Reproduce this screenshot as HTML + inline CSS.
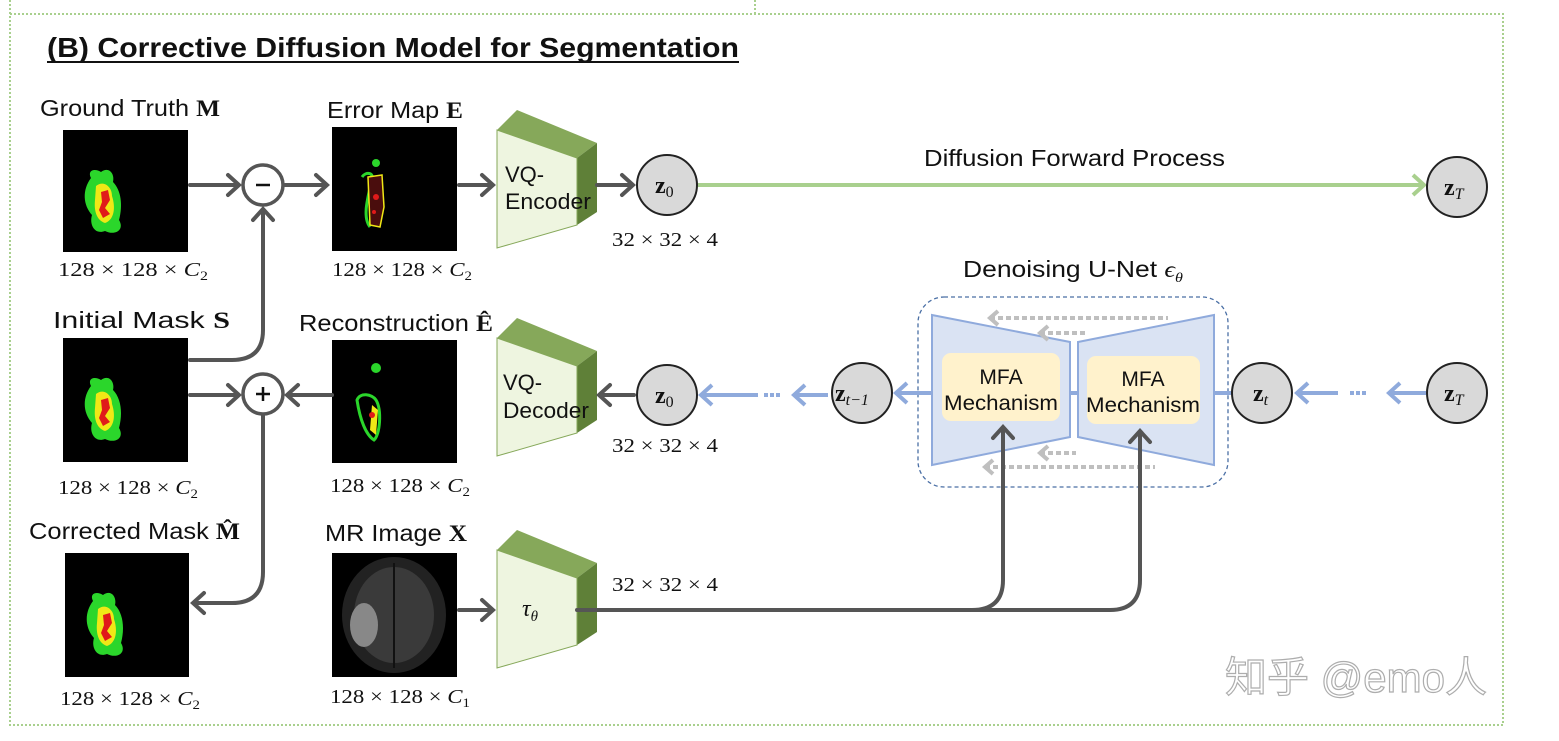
<!DOCTYPE html>
<html><head><meta charset="utf-8"><style>
body{margin:0;background:#fff}
svg{display:block}
.s{font-family:"Liberation Sans",sans-serif;fill:#111}
.r{font-family:"Liberation Serif",serif;fill:#111;font-size:20px}
</style></head><body>
<svg width="1559" height="741" viewBox="0 0 1559 741" xmlns="http://www.w3.org/2000/svg">
<defs>
<g id="blob">
<path d="M28,48 C24,40 32,38 38,42 C46,36 52,44 50,52 C58,60 60,75 56,90 C62,100 52,106 42,101 C32,105 26,95 29,85 C20,75 19,60 28,48Z" fill="#2bd62b"/>
<path d="M33,56 C40,50 49,56 49,66 C53,78 51,90 42,93 C33,90 31,80 32,70Z" fill="#f0e816"/>
<path d="M38,62 L45,60 L47,70 L42,78 L47,84 L40,88 L36,80 L39,72Z" fill="#e01a1a"/>
</g>
</defs>
<g stroke="#a9d08e" stroke-width="2" stroke-dasharray="2,2" fill="none">
<path d="M10 14 H1503 V725 H10 Z"/>
<path d="M10 0 V14"/><path d="M755 0 V14"/>
</g>
<text x="47" y="57" class="s" font-size="28" font-weight="bold" textLength="692" lengthAdjust="spacingAndGlyphs">(B) Corrective Diffusion Model for Segmentation</text>
<line x1="47" y1="62" x2="739" y2="62" stroke="#111" stroke-width="2"/>

<text x="40" y="116" class="s" font-size="23" textLength="180" lengthAdjust="spacingAndGlyphs">Ground Truth <tspan font-family="Liberation Serif" font-weight="bold">M</tspan></text>
<text x="327" y="118" class="s" font-size="23" textLength="136" lengthAdjust="spacingAndGlyphs">Error Map <tspan font-family="Liberation Serif" font-weight="bold">E</tspan></text>
<text x="53" y="328" class="s" font-size="23" textLength="177" lengthAdjust="spacingAndGlyphs">Initial Mask <tspan font-family="Liberation Serif" font-weight="bold">S</tspan></text>
<text x="299" y="331" class="s" font-size="23" textLength="194" lengthAdjust="spacingAndGlyphs">Reconstruction <tspan font-family="Liberation Serif" font-weight="bold">Ê</tspan></text>
<text x="29" y="539" class="s" font-size="23" textLength="211" lengthAdjust="spacingAndGlyphs">Corrected Mask <tspan font-family="Liberation Serif" font-weight="bold">M̂</tspan></text>
<text x="325" y="541" class="s" font-size="23" textLength="142" lengthAdjust="spacingAndGlyphs">MR Image <tspan font-family="Liberation Serif" font-weight="bold">X</tspan></text>

<rect x="63" y="130" width="125" height="122" fill="#000"/><use href="#blob" x="63" y="130"/>
<rect x="332" y="127" width="125" height="124" fill="#000"/>
<g transform="translate(332,127)"><path d="M30,50 C34,44 42,46 40,52 C36,70 30,90 38,100" stroke="#2bd62b" stroke-width="3" fill="none"/><path d="M36,50 L50,48 L52,80 L48,100 L38,98Z" fill="#4a0d0d" stroke="#f0e816" stroke-width="1.5"/><circle cx="44" cy="70" r="3" fill="#e01a1a"/><circle cx="42" cy="85" r="2" fill="#e01a1a"/><circle cx="44" cy="36" r="4" fill="#2bd62b"/></g>
<rect x="63" y="338" width="125" height="124" fill="#000"/><use href="#blob" x="63" y="338"/>
<rect x="332" y="340" width="125" height="123" fill="#000"/>
<g transform="translate(332,340)"><circle cx="44" cy="28" r="5" fill="#2bd62b"/><path d="M25,60 C28,52 40,54 44,60 C50,70 48,95 42,100 C34,95 28,80 25,60Z" fill="#000" stroke="#2bd62b" stroke-width="3"/><path d="M40,65 L46,70 L44,95 L38,90Z" fill="#f0e816"/><circle cx="40" cy="75" r="3" fill="#e01a1a"/></g>
<rect x="65" y="553" width="124" height="124" fill="#000"/><use href="#blob" x="65" y="553"/>
<rect x="332" y="553" width="125" height="124" fill="#000"/>
<g transform="translate(332,553)"><ellipse cx="62" cy="62" rx="52" ry="58" fill="#222"/><ellipse cx="62" cy="62" rx="40" ry="48" fill="#3a3a3a"/><ellipse cx="32" cy="72" rx="14" ry="22" fill="#888"/><path d="M62,10 V115" stroke="#111" stroke-width="2"/></g>

<text x="58" y="276" class="r" textLength="150" lengthAdjust="spacingAndGlyphs">128 × 128 × <tspan font-style="italic">C</tspan><tspan font-size="13" dy="4">2</tspan></text>
<text x="332" y="276" class="r" textLength="140" lengthAdjust="spacingAndGlyphs">128 × 128 × <tspan font-style="italic">C</tspan><tspan font-size="13" dy="4">2</tspan></text>
<text x="58" y="494" class="r" textLength="140" lengthAdjust="spacingAndGlyphs">128 × 128 × <tspan font-style="italic">C</tspan><tspan font-size="13" dy="4">2</tspan></text>
<text x="330" y="492" class="r" textLength="140" lengthAdjust="spacingAndGlyphs">128 × 128 × <tspan font-style="italic">C</tspan><tspan font-size="13" dy="4">2</tspan></text>
<text x="60" y="705" class="r" textLength="140" lengthAdjust="spacingAndGlyphs">128 × 128 × <tspan font-style="italic">C</tspan><tspan font-size="13" dy="4">2</tspan></text>
<text x="330" y="703" class="r" textLength="140" lengthAdjust="spacingAndGlyphs">128 × 128 × <tspan font-style="italic">C</tspan><tspan font-size="13" dy="4">1</tspan></text>
<text x="612" y="246" class="r" textLength="106" lengthAdjust="spacingAndGlyphs">32 × 32 × 4</text>
<text x="612" y="452" class="r" textLength="106" lengthAdjust="spacingAndGlyphs">32 × 32 × 4</text>
<text x="612" y="591" class="r" textLength="106" lengthAdjust="spacingAndGlyphs">32 × 32 × 4</text>

<g id="blk">
<polygon points="497,130 517,110 597,143 577,158" fill="#86a85a"/>
<polygon points="577,158 597,143 597,212 577,225" fill="#5f8038"/>
<polygon points="497,130 577,158 577,225 497,248" fill="#eef5e0" stroke="#86a85a" stroke-width="1"/>
</g>
<use href="#blk" y="208"/>
<use href="#blk" y="420"/>
<text x="505" y="182" class="s" font-size="22">VQ-</text><text x="505" y="209" class="s" font-size="22" textLength="86" lengthAdjust="spacingAndGlyphs">Encoder</text>
<text x="503" y="390" class="s" font-size="22">VQ-</text><text x="503" y="418" class="s" font-size="22" textLength="86" lengthAdjust="spacingAndGlyphs">Decoder</text>
<text x="522" y="616" font-family="Liberation Serif" font-style="italic" font-size="24" fill="#111">τ<tspan font-size="15" dy="5">θ</tspan></text>

<g stroke="#555" stroke-width="4" fill="none" stroke-linecap="round">
<path d="M190 185 H238"/><path d="M228 175 L239 185 L228 195"/>
<path d="M285 185 H326"/><path d="M316 175 L327 185 L316 195"/>
<path d="M459 185 H492"/><path d="M482 175 L493 185 L482 195"/>
<path d="M597 185 H632"/><path d="M622 175 L633 185 L622 195"/>
<path d="M190 360 H232 Q263 360 263 330 V210"/><path d="M253 220 L263 209 L273 220"/>
<path d="M190 395 H238"/><path d="M228 385 L239 395 L228 405"/>
<path d="M332 395 H288"/><path d="M298 385 L287 395 L298 405"/>
<path d="M634 395 H600"/><path d="M610 385 L599 395 L610 405"/>
<path d="M263 415 V572 Q263 603 232 603 H194"/><path d="M204 593 L193 603 L204 613"/>
<path d="M459 610 H492"/><path d="M482 600 L493 610 L482 620"/>
</g>
<circle cx="263" cy="185" r="20" fill="#fff" stroke="#555" stroke-width="3.5"/>
<line x1="256" y1="185" x2="270" y2="185" stroke="#111" stroke-width="2.5"/>
<circle cx="263" cy="394" r="20" fill="#fff" stroke="#555" stroke-width="3.5"/>
<path d="M256 394 H270 M263 387 V401" stroke="#111" stroke-width="2.5"/>

<path d="M697 185 H1423" stroke="#a9d08e" stroke-width="4"/>
<path d="M1413 175 L1424 185 L1413 195" stroke="#a9d08e" stroke-width="4" fill="none"/>
<text x="924" y="166" class="s" font-size="23" textLength="301" lengthAdjust="spacingAndGlyphs">Diffusion Forward Process</text>

<text x="963" y="277" class="s" font-size="23" textLength="220" lengthAdjust="spacingAndGlyphs">Denoising U-Net <tspan font-family="Liberation Serif" font-style="italic">ϵ</tspan><tspan font-family="Liberation Serif" font-style="italic" font-size="14" dy="5">θ</tspan></text>
<rect x="918" y="297" width="310" height="190" rx="26" fill="none" stroke="#4a6fa5" stroke-width="1.3" stroke-dasharray="4,3"/>
<polygon points="932,315 1070,342 1070,437 932,465" fill="#dae3f3" stroke="#8faadc" stroke-width="2"/>
<polygon points="1078,342 1214,315 1214,465 1078,437" fill="#dae3f3" stroke="#8faadc" stroke-width="2"/>
<line x1="1070" y1="393" x2="1078" y2="393" stroke="#8faadc" stroke-width="4"/>
<rect x="942" y="353" width="118" height="68" rx="9" fill="#fff2cc"/>
<rect x="1087" y="356" width="113" height="68" rx="9" fill="#fff2cc"/>
<text x="1001" y="384" class="s" font-size="21" text-anchor="middle">MFA</text><text x="1001" y="410" class="s" font-size="21" text-anchor="middle" textLength="114" lengthAdjust="spacingAndGlyphs">Mechanism</text>
<text x="1143" y="386" class="s" font-size="21" text-anchor="middle">MFA</text><text x="1143" y="412" class="s" font-size="21" text-anchor="middle" textLength="114" lengthAdjust="spacingAndGlyphs">Mechanism</text>
<g stroke="#bfbfbf" stroke-width="4" fill="none">
<path d="M990 318 H1168" stroke-dasharray="5,3"/><path d="M990 318 m8 -7 l-8 7 l8 7"/>
<path d="M1040 333 H1088" stroke-dasharray="5,3"/><path d="M1040 333 m8 -7 l-8 7 l8 7"/>
<path d="M1040 453 H1076" stroke-dasharray="5,3"/><path d="M1040 453 m8 -7 l-8 7 l8 7"/>
<path d="M985 467 H1155" stroke-dasharray="5,3"/><path d="M985 467 m8 -7 l-8 7 l8 7"/>
</g>
<g stroke="#555" stroke-width="4" fill="none" stroke-linecap="round">
<path d="M577 610 H972 Q1003 610 1003 580 V428"/><path d="M993 438 L1003 427 L1013 438"/>
<path d="M972 610 H1110 Q1140 610 1140 580 V432"/><path d="M1130 442 L1140 431 L1150 442"/>
</g>

<g stroke="#8faadc" stroke-width="4" fill="none">
<path d="M758 395 H702"/><path d="M712 385 L701 395 L712 405"/>
<path d="M828 395 H795"/><path d="M805 385 L794 395 L805 405"/>
<path d="M932 393 H897"/><path d="M907 383 L896 393 L907 403"/>
<path d="M1232 393 H1214"/>
<path d="M1338 393 H1298"/><path d="M1308 383 L1297 393 L1308 403"/>
<path d="M1426 393 H1390"/><path d="M1400 383 L1389 393 L1400 403"/>
</g>
<g fill="#8faadc"><rect x="764" y="393" width="4" height="4"/><rect x="770" y="393" width="4" height="4"/><rect x="776" y="393" width="4" height="4"/>
<rect x="1350" y="391" width="4" height="4"/><rect x="1356" y="391" width="4" height="4"/><rect x="1362" y="391" width="4" height="4"/></g>

<g fill="#d9d9d9" stroke="#222" stroke-width="2">
<circle cx="667" cy="185" r="30"/><circle cx="1457" cy="187" r="30"/>
<circle cx="667" cy="395" r="30"/><circle cx="862" cy="393" r="30"/>
<circle cx="1262" cy="393" r="30"/><circle cx="1457" cy="393" r="30"/>
</g>
<g font-family="Liberation Serif" font-size="24" fill="#111" font-weight="bold">
<text x="655" y="193">z<tspan font-weight="normal" font-size="16" dy="4">0</tspan></text>
<text x="1444" y="195">z<tspan font-weight="normal" font-style="italic" font-size="16" dy="4">T</tspan></text>
<text x="655" y="403">z<tspan font-weight="normal" font-size="16" dy="4">0</tspan></text>
<text x="835" y="401">z<tspan font-weight="normal" font-style="italic" font-size="16" dy="4">t−1</tspan></text>
<text x="1253" y="401">z<tspan font-weight="normal" font-style="italic" font-size="16" dy="4">t</tspan></text>
<text x="1444" y="401">z<tspan font-weight="normal" font-style="italic" font-size="16" dy="4">T</tspan></text>
</g>

<text x="1225" y="692" font-family="Liberation Sans, Noto Sans CJK SC, sans-serif" font-size="42" fill="#fff" stroke="#999" stroke-width="1.2" opacity="0.8">知乎 @emo人</text>
</svg>
</body></html>
